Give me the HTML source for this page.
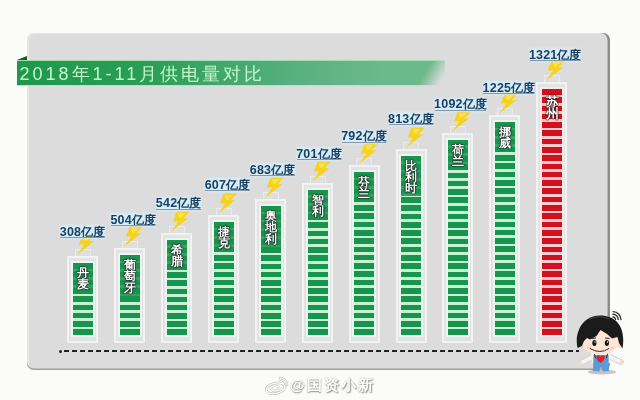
<!DOCTYPE html>
<html><head><meta charset="utf-8">
<style>
html,body{margin:0;padding:0;}
#wrap{position:absolute;left:0;top:0;width:640px;height:400px;filter:blur(0.5px);}
body{width:640px;height:400px;overflow:hidden;background:#fbfbf9;position:relative;font-family:"Liberation Sans",sans-serif;}
.panel{position:absolute;left:27px;top:32.5px;width:582.5px;height:337px;border-radius:7px;background:#dcdcdc;box-shadow:inset -2.5px 0 0 #8e8a8a, inset 0 -1.5px 0 #a19d9d, inset -4px 0 1px #e2e0de, inset 2px 1px 1px #e6e6e4;}
.ribbon{position:absolute;left:17px;top:59.5px;width:428px;height:26px;
 background:linear-gradient(90deg,#1f984b 0%,#2a9d57 30%,#58b07e 65%,#6cb98b 85%);
 -webkit-mask-image:linear-gradient(120deg,#000 calc(100% - 24px),transparent calc(100% - 6px));
 border-top:1px solid #9ee0b0;border-bottom:1px solid #a8ecb8;box-sizing:border-box;}
.fold{position:absolute;left:17px;top:55.5px;width:0;height:0;border-left:10px solid transparent;border-bottom:4px solid #0e5a2c;}
.title{position:absolute;left:19.5px;top:62px;font-size:18px;line-height:24px;color:#c2f8cc;letter-spacing:3px;white-space:nowrap;}
.frame{position:absolute;width:31px;box-sizing:border-box;border:2px solid #f2f2f2;background:#e3e3e3;}
.nub{position:absolute;width:16px;height:7px;box-sizing:border-box;border:1px solid #eaeaea;border-bottom:none;background:#dfdfdf;}
.inner{position:absolute;width:20px;box-shadow:0 0 0 2px #eaf6ee;}
.inner.red{box-shadow:0 0 0 2px #f8eaea;}
.grn{background:repeating-linear-gradient(to top,#19944f 0 5.6px,#c6f2d4 5.6px 8.2px);}
.red{background:repeating-linear-gradient(to top,#d0121f 0 5.6px,#fccbd0 5.6px 8.2px);}
.lab{position:absolute;width:20px;font-size:12px;font-weight:bold;line-height:11.2px;color:#fff;text-align:center;padding-top:5.2px;box-sizing:border-box;
 text-shadow:0 0 1px #000,0 0 1px #000,0 0 1px #000,0 0 2px #222;}
.grnb{background:rgba(25,148,79,0.85);}
.redb{background:transparent;font-size:13px;line-height:12px;padding-top:7px;}
.bolt{position:absolute;}
.val{position:absolute;width:60px;text-align:center;font-size:12px;line-height:12px;color:#1b3f60;white-space:nowrap;
 text-shadow:0 0 3px #d0eafa,0 0 2px #d8eefc,0 0 1px #e8f6ff;}
.val b{font-size:12.5px;letter-spacing:0.2px;}
.val span{font-size:12px;font-weight:bold;letter-spacing:0;}
.glow{position:absolute;height:12px;background:rgba(216,238,252,0.85);box-shadow:0 0 2px 1px rgba(216,238,252,0.7);}
.ul{position:absolute;height:1px;background:#7f98ae;}
.dash{position:absolute;left:64px;top:350px;width:515px;height:2px;background:repeating-linear-gradient(90deg,#222 0 5px,transparent 5px 8px);}
.dot{position:absolute;left:59px;top:349.5px;width:3px;height:3px;border-radius:50%;background:#222;}
.wm{position:absolute;left:290px;top:376.3px;font-size:15px;font-weight:bold;line-height:18px;color:#fff;text-shadow:0.5px 0.5px 1.5px #8a8a8a,0 0 1px #aaa;letter-spacing:2.2px;white-space:nowrap;}
.kid{position:absolute;left:570px;top:300px;}
.wb{position:absolute;left:265px;top:374px;}
</style></head><body><div id="wrap">
<div class="panel"></div>
<div class="ribbon"></div>
<div class="fold"></div>
<div class="title">2018年1-11月供电量对比</div>
<div class="frame" style="left:67.2px;top:256px;height:87px"></div>
<div class="nub" style="left:75.0px;top:249px"></div>
<div class="inner grn" style="left:73.0px;top:263px;height:72px;background:repeating-linear-gradient(to top,#19944f 0 5.6px,#c6f2d4 5.6px 8.300px)"></div>
<div class="lab grnb" style="left:73.0px;top:263px;height:29.4px">丹<br>麦</div>
<svg class="bolt" style="left:75.2px;top:234px" width="22" height="21" viewBox="0 0 20 19"><path d="M7 0.5 L19 0.5 L13 6.5 L17.5 6.5 L2 18.5 L8.5 9.5 L3.5 9.5 Z" fill="#f6d21a"/><path d="M8 2 L15 2 L11 6 L9 6 Z" fill="#fbe870" opacity="0.7"/></svg>
<div class="glow" style="left:61.3px;top:226.0px;width:42.5px"></div>
<div class="val" style="left:52.5px;top:225.5px"><b>308</b><span>亿度</span></div>
<div class="ul" style="left:60.3px;top:237.0px;width:44.5px"></div>
<div class="frame" style="left:114.1px;top:248px;height:95px"></div>
<div class="nub" style="left:122.0px;top:241px"></div>
<div class="inner grn" style="left:119.9px;top:255px;height:80px;background:repeating-linear-gradient(to top,#19944f 0 5.6px,#c6f2d4 5.6px 8.267px)"></div>
<div class="lab grnb" style="left:119.9px;top:255px;height:40.599999999999994px">葡<br>萄<br>牙</div>
<svg class="bolt" style="left:122.2px;top:226px" width="22" height="21" viewBox="0 0 20 19"><path d="M7 0.5 L19 0.5 L13 6.5 L17.5 6.5 L2 18.5 L8.5 9.5 L3.5 9.5 Z" fill="#f6d21a"/><path d="M8 2 L15 2 L11 6 L9 6 Z" fill="#fbe870" opacity="0.7"/></svg>
<div class="glow" style="left:111.9px;top:214.0px;width:42.5px"></div>
<div class="val" style="left:103.2px;top:213.5px"><b>504</b><span>亿度</span></div>
<div class="ul" style="left:110.9px;top:225.0px;width:44.5px"></div>
<div class="frame" style="left:161.0px;top:232.5px;height:110.5px"></div>
<div class="nub" style="left:168.9px;top:225.5px"></div>
<div class="inner grn" style="left:166.8px;top:239.5px;height:95.5px;background:repeating-linear-gradient(to top,#19944f 0 5.6px,#c6f2d4 5.6px 8.173px)"></div>
<div class="lab grnb" style="left:166.8px;top:239.5px;height:29.4px">希<br>腊</div>
<svg class="bolt" style="left:169.1px;top:210.5px" width="22" height="21" viewBox="0 0 20 19"><path d="M7 0.5 L19 0.5 L13 6.5 L17.5 6.5 L2 18.5 L8.5 9.5 L3.5 9.5 Z" fill="#f6d21a"/><path d="M8 2 L15 2 L11 6 L9 6 Z" fill="#fbe870" opacity="0.7"/></svg>
<div class="glow" style="left:157.3px;top:197.5px;width:42.5px"></div>
<div class="val" style="left:148.6px;top:197.0px"><b>542</b><span>亿度</span></div>
<div class="ul" style="left:156.3px;top:208.5px;width:44.5px"></div>
<div class="frame" style="left:207.9px;top:215px;height:128px"></div>
<div class="nub" style="left:215.8px;top:208px"></div>
<div class="inner grn" style="left:213.7px;top:222px;height:113px;background:repeating-linear-gradient(to top,#19944f 0 5.6px,#c6f2d4 5.6px 8.262px)"></div>
<div class="lab grnb" style="left:213.7px;top:222px;height:29.4px">捷<br>克</div>
<svg class="bolt" style="left:215.9px;top:193px" width="22" height="21" viewBox="0 0 20 19"><path d="M7 0.5 L19 0.5 L13 6.5 L17.5 6.5 L2 18.5 L8.5 9.5 L3.5 9.5 Z" fill="#f6d21a"/><path d="M8 2 L15 2 L11 6 L9 6 Z" fill="#fbe870" opacity="0.7"/></svg>
<div class="glow" style="left:206.2px;top:179.0px;width:42.5px"></div>
<div class="val" style="left:197.4px;top:178.5px"><b>607</b><span>亿度</span></div>
<div class="ul" style="left:205.2px;top:190.0px;width:44.5px"></div>
<div class="frame" style="left:254.8px;top:199px;height:144px"></div>
<div class="nub" style="left:262.7px;top:192px"></div>
<div class="inner grn" style="left:260.6px;top:206px;height:129px;background:repeating-linear-gradient(to top,#19944f 0 5.6px,#c6f2d4 5.6px 8.227px)"></div>
<div class="lab grnb" style="left:260.6px;top:206px;height:40.599999999999994px">奥<br>地<br>利</div>
<svg class="bolt" style="left:262.9px;top:177px" width="22" height="21" viewBox="0 0 20 19"><path d="M7 0.5 L19 0.5 L13 6.5 L17.5 6.5 L2 18.5 L8.5 9.5 L3.5 9.5 Z" fill="#f6d21a"/><path d="M8 2 L15 2 L11 6 L9 6 Z" fill="#fbe870" opacity="0.7"/></svg>
<div class="glow" style="left:251.2px;top:164.0px;width:42.5px"></div>
<div class="val" style="left:242.5px;top:163.5px"><b>683</b><span>亿度</span></div>
<div class="ul" style="left:250.2px;top:175.0px;width:44.5px"></div>
<div class="frame" style="left:301.7px;top:182.5px;height:160.5px"></div>
<div class="nub" style="left:309.6px;top:175.5px"></div>
<div class="inner grn" style="left:307.5px;top:189.5px;height:145.5px;background:repeating-linear-gradient(to top,#19944f 0 5.6px,#c6f2d4 5.6px 8.229px)"></div>
<div class="lab grnb" style="left:307.5px;top:189.5px;height:29.4px">智<br>利</div>
<svg class="bolt" style="left:309.8px;top:160.5px" width="22" height="21" viewBox="0 0 20 19"><path d="M7 0.5 L19 0.5 L13 6.5 L17.5 6.5 L2 18.5 L8.5 9.5 L3.5 9.5 Z" fill="#f6d21a"/><path d="M8 2 L15 2 L11 6 L9 6 Z" fill="#fbe870" opacity="0.7"/></svg>
<div class="glow" style="left:297.7px;top:148.0px;width:42.5px"></div>
<div class="val" style="left:288.9px;top:147.5px"><b>701</b><span>亿度</span></div>
<div class="ul" style="left:296.7px;top:159.0px;width:44.5px"></div>
<div class="frame" style="left:348.6px;top:165px;height:178px"></div>
<div class="nub" style="left:356.4px;top:158px"></div>
<div class="inner grn" style="left:354.4px;top:172px;height:163px;background:repeating-linear-gradient(to top,#19944f 0 5.6px,#c6f2d4 5.6px 8.284px)"></div>
<div class="lab grnb" style="left:354.4px;top:172px;height:29.4px">芬<br>兰</div>
<svg class="bolt" style="left:356.6px;top:143px" width="22" height="21" viewBox="0 0 20 19"><path d="M7 0.5 L19 0.5 L13 6.5 L17.5 6.5 L2 18.5 L8.5 9.5 L3.5 9.5 Z" fill="#f6d21a"/><path d="M8 2 L15 2 L11 6 L9 6 Z" fill="#fbe870" opacity="0.7"/></svg>
<div class="glow" style="left:342.7px;top:130.5px;width:42.5px"></div>
<div class="val" style="left:333.9px;top:130.0px"><b>792</b><span>亿度</span></div>
<div class="ul" style="left:341.7px;top:141.5px;width:44.5px"></div>
<div class="frame" style="left:395.5px;top:148.75px;height:194.25px"></div>
<div class="nub" style="left:403.4px;top:141.75px"></div>
<div class="inner grn" style="left:401.3px;top:155.75px;height:179.25px;background:repeating-linear-gradient(to top,#19944f 0 5.6px,#c6f2d4 5.6px 8.269px)"></div>
<div class="lab grnb" style="left:401.3px;top:155.75px;height:40.599999999999994px">比<br>利<br>时</div>
<svg class="bolt" style="left:403.6px;top:126.75px" width="22" height="21" viewBox="0 0 20 19"><path d="M7 0.5 L19 0.5 L13 6.5 L17.5 6.5 L2 18.5 L8.5 9.5 L3.5 9.5 Z" fill="#f6d21a"/><path d="M8 2 L15 2 L11 6 L9 6 Z" fill="#fbe870" opacity="0.7"/></svg>
<div class="glow" style="left:389.5px;top:113.0px;width:42.5px"></div>
<div class="val" style="left:380.8px;top:112.5px"><b>813</b><span>亿度</span></div>
<div class="ul" style="left:388.5px;top:124.0px;width:44.5px"></div>
<div class="frame" style="left:442.4px;top:132.5px;height:210.5px"></div>
<div class="nub" style="left:450.2px;top:125.5px"></div>
<div class="inner grn" style="left:448.2px;top:139.5px;height:195.5px;background:repeating-linear-gradient(to top,#19944f 0 5.6px,#c6f2d4 5.6px 8.257px)"></div>
<div class="lab grnb" style="left:448.2px;top:139.5px;height:29.4px">荷<br>兰</div>
<svg class="bolt" style="left:450.4px;top:110.5px" width="22" height="21" viewBox="0 0 20 19"><path d="M7 0.5 L19 0.5 L13 6.5 L17.5 6.5 L2 18.5 L8.5 9.5 L3.5 9.5 Z" fill="#f6d21a"/><path d="M8 2 L15 2 L11 6 L9 6 Z" fill="#fbe870" opacity="0.7"/></svg>
<div class="glow" style="left:435.9px;top:98.5px;width:49px"></div>
<div class="val" style="left:430.4px;top:98.0px"><b>1092</b><span>亿度</span></div>
<div class="ul" style="left:434.9px;top:109.5px;width:51px"></div>
<div class="frame" style="left:489.3px;top:115px;height:228px"></div>
<div class="nub" style="left:497.1px;top:108px"></div>
<div class="inner grn" style="left:495.1px;top:122px;height:213px;background:repeating-linear-gradient(to top,#19944f 0 5.6px,#c6f2d4 5.6px 8.296px)"></div>
<div class="lab grnb" style="left:495.1px;top:122px;height:29.4px">挪<br>威</div>
<svg class="bolt" style="left:497.3px;top:93px" width="22" height="21" viewBox="0 0 20 19"><path d="M7 0.5 L19 0.5 L13 6.5 L17.5 6.5 L2 18.5 L8.5 9.5 L3.5 9.5 Z" fill="#f6d21a"/><path d="M8 2 L15 2 L11 6 L9 6 Z" fill="#fbe870" opacity="0.7"/></svg>
<div class="glow" style="left:484.4px;top:82.0px;width:49px"></div>
<div class="val" style="left:478.9px;top:81.5px"><b>1225</b><span>亿度</span></div>
<div class="ul" style="left:483.4px;top:93.0px;width:51px"></div>
<div class="frame" style="left:536.2px;top:82px;height:261px"></div>
<div class="nub" style="left:544.0px;top:75px"></div>
<div class="inner red" style="left:542.0px;top:89px;height:246px;background:repeating-linear-gradient(to top,#d0121f 0 5.6px,#fccbd0 5.6px 8.290px)"></div>
<div class="lab redb" style="left:542.0px;top:89px;height:29.4px">苏<br>州</div>
<svg class="bolt" style="left:544.2px;top:60px" width="22" height="21" viewBox="0 0 20 19"><path d="M7 0.5 L19 0.5 L13 6.5 L17.5 6.5 L2 18.5 L8.5 9.5 L3.5 9.5 Z" fill="#f6d21a"/><path d="M8 2 L15 2 L11 6 L9 6 Z" fill="#fbe870" opacity="0.7"/></svg>
<div class="glow" style="left:530.8px;top:49.0px;width:49px"></div>
<div class="val" style="left:525.2px;top:48.5px"><b>1321</b><span>亿度</span></div>
<div class="ul" style="left:529.8px;top:60.0px;width:51px"></div>
<div class="dash"></div>
<div class="dot"></div>
<svg class="kid" width="60" height="80" viewBox="0 0 60 80">
<ellipse cx="32" cy="72" rx="14" ry="2.6" fill="#c6c4c4"/>
<path d="M24 56 L11 63" stroke="#cfcfcf" stroke-width="5.5" stroke-linecap="round"/>
<path d="M24 56 L11 63" stroke="#f4f4f4" stroke-width="3.8" stroke-linecap="round"/>
<path d="M38 56 L51 62" stroke="#cfcfcf" stroke-width="5.5" stroke-linecap="round"/>
<path d="M38 56 L51 62" stroke="#f4f4f4" stroke-width="3.8" stroke-linecap="round"/>
<circle cx="10.5" cy="63.5" r="2" fill="#f9dcc6"/>
<circle cx="51.5" cy="62.5" r="2" fill="#f9dcc6"/>
<path d="M21 52 L41 52 L40 63 L22 63 Z" fill="#f2f2f2"/>
<path d="M23.5 55 L38.5 55 L39 71 L33 71.5 L31 67 L29 71.5 L23 71 Z" fill="#5b9bd8"/>
<path d="M24 52 L25.5 58 M38 52 L36.5 58" stroke="#333" stroke-width="1"/>
<path d="M30.5 63 C26 60 25 56.5 27.5 55.5 C29 55 30.5 56.5 30.5 56.5 C30.5 56.5 32 55 33.5 55.5 C36 56.5 35 60 30.5 63 Z" fill="#d8262c"/>
<g transform="translate(5,10)">
<ellipse cx="6" cy="34" rx="2.5" ry="3.2" fill="#f9dcc6"/>
<ellipse cx="45" cy="35" rx="2.5" ry="3.2" fill="#f9dcc6"/>
<path d="M7 30 C6 40 15 44.5 25 44.5 C36 44.5 44 40 44 30 C44 22 35 18 25 18 C15 18 7 22 7 30 Z" fill="#fde6d4"/>
<path d="M2.5 38 C-1 22 8 5.5 25 5.5 C42 5.5 51 18 47.5 38.5 L44 33 L42.5 27 L37 28.5 L32 24 L25.5 20 L21.5 26 L15 29.5 L12 28 L9 31 L7 36 Z" fill="#1b1b1b"/>
<path d="M14 9 C20 6.5 28 6.5 34 9" stroke="#555" stroke-width="1.2" fill="none" opacity="0.6"/>
<ellipse cx="19.4" cy="33" rx="2.1" ry="3" fill="#151515"/>
<ellipse cx="31.9" cy="33" rx="2.1" ry="3" fill="#151515"/>
<circle cx="20" cy="32" r="0.7" fill="#fff"/>
<circle cx="32.5" cy="32" r="0.7" fill="#fff"/>
<path d="M16.5 28.5 L21 28 M30 28 L34.5 28.5" stroke="#2a2a2a" stroke-width="1.1"/>
<ellipse cx="14" cy="38" rx="2.2" ry="1.2" fill="#f7c4b4" opacity="0.7"/>
<ellipse cx="37" cy="38" rx="2.2" ry="1.2" fill="#f7c4b4" opacity="0.7"/>
<path d="M15 38.5 Q25 44.5 34 38.5" stroke="#3a2a2a" stroke-width="1" fill="none"/>
<g stroke="#333" stroke-width="1.4" fill="none" stroke-linecap="round">
<path d="M38 7 A2.5 2.5 0 0 1 40.5 9.5"/>
<path d="M38 4.3 A5.2 5.2 0 0 1 43.2 9.5"/>
<path d="M38 1.6 A7.9 7.9 0 0 1 45.9 9.5"/>
</g>
</g>
</svg>
<svg class="wb" width="26" height="22" viewBox="0 0 26 22">
<g fill="none" stroke="#c4c4c4" stroke-width="2.6" stroke-linecap="round">
<ellipse cx="10.5" cy="14.3" rx="9.5" ry="5.2" transform="rotate(-12 10.5 14.3)"/>
<ellipse cx="10" cy="14.3" rx="4.2" ry="2.5"/>
<path d="M15 4 A7 7 0 0 1 22 11"/>
<path d="M15 7.5 A3.5 3.5 0 0 1 18.5 11"/>
</g>
<g fill="none" stroke="#ffffff" stroke-width="1.2" stroke-linecap="round">
<ellipse cx="10.5" cy="14.3" rx="9.5" ry="5.2" transform="rotate(-12 10.5 14.3)"/>
<ellipse cx="10" cy="14.3" rx="4.2" ry="2.5"/>
<path d="M15 4 A7 7 0 0 1 22 11"/>
<path d="M15 7.5 A3.5 3.5 0 0 1 18.5 11"/>
</g>
</svg>
<div class="wm">@国资小新</div>
</div></body></html>
